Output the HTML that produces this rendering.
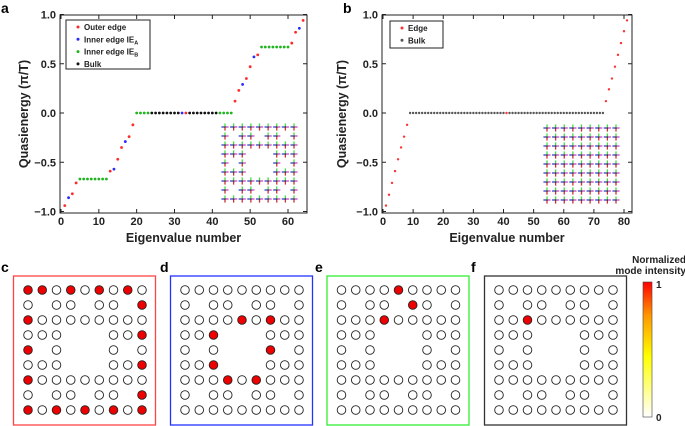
<!DOCTYPE html>
<html><head><meta charset="utf-8"><style>
html,body{margin:0;padding:0;background:#fff;}
svg{display:block;font-family:"Liberation Sans",Arial,sans-serif;}
</style></head><body>
<svg id="fig" width="685" height="426" viewBox="0 0 685 426" xmlns="http://www.w3.org/2000/svg"></svg>
<script>
// Panel a data
const aCats = Array.from({length:64},(_, i)=>i+1);
const aValues = [-0.94,-0.86,-0.82,-0.71,-0.67,-0.67,-0.67,-0.67,-0.67,-0.67,-0.67,-0.67,-0.59,-0.57,-0.47,-0.35,-0.29,-0.24,-0.12,
0,0,0,0,0,0,0,0,0,0,0,0,0,0,0,0,0,0,0,0,0,0,0,0,0,0,
0.12,0.23,0.29,0.35,0.47,0.57,0.59,0.67,0.67,0.67,0.67,0.67,0.67,0.67,0.67,0.71,0.82,0.86,0.94];
const aTypes = "RBRRGGGGGGGGRBRRBRRGGGGKKKKKKKKBRKKKKKKKKGGGGRRBRRBRGGGGGGGGRRBR".split("");
// Panel b data
const bCats = Array.from({length:81},(_, i)=>i+1);
const bValues = [-0.94,-0.83,-0.71,-0.59,-0.47,-0.35,-0.24,-0.12].concat(Array(65).fill(0)).concat([0.12,0.24,0.35,0.47,0.59,0.71,0.83,0.94]);
const bTypes = Array(8).fill("R").concat(Array(65).fill("K")).concat(Array(8).fill("R"));
bTypes[40]="R";
const yTicks = [-1.0,-0.5,0.0,0.5,1.0];
const yTickLabels = ["\u22121.0","\u22120.5","0.0","0.5","1.0"];
const aXTicks = [0,10,20,30,40,50,60];
const bXTicks = [0,10,20,30,40,50,60,70,80];
// mode panels
const carpet = ["111111111","101101101","111111111","111000111","101000101","111000111","111111111","101101101","111111111"];
const modeC = [[0,0],[0,1],[0,3],[0,5],[0,7],[1,8],[2,0],[3,8],[4,0],[5,8],[6,0],[7,8],[8,0],[8,2],[8,4],[8,6],[8,8]];
const modeD = [[2,4],[2,6],[3,2],[4,6],[5,2],[6,3],[6,5]];
const modeE = [[0,4],[1,5],[2,3]];
const modeF = [[2,2]];

const NS="http://www.w3.org/2000/svg";
const svg=document.getElementById('fig');
function mk(tag,attrs,parent,text){const e=document.createElementNS(NS,tag);for(const k in attrs)e.setAttribute(k,attrs[k]);if(text!==undefined)e.textContent=text;(parent||svg).appendChild(e);return e;}
const colMap={R:"#ff2a2a",B:"#2a2aff",G:"#1fb51f",K:"#111"};

function panel(name,x0,x1,xmin,xmax,px0,px1,cats,vals,types,xt,pal,dotr){
  const g=mk('g',{});
  
  
  const top=15,bot=213;
  const xs=v=>px0+(v-xmin)*(px1-px0)/(xmax-xmin);
  const ys=v=>113-v*98.5;
  const fr=mk('rect',{x:x0,y:top,width:x1-x0,height:bot-top,fill:'none',stroke:'#222','stroke-width':1},g);
  
  yTicks.forEach((t,i)=>{const y=ys(t);
    mk('line',{x1:x0,x2:x0+4,y1:y,y2:y,stroke:'#222'},g);mk('line',{x1:x1,x2:x1-4,y1:y,y2:y,stroke:'#222'},g);
    const tl=mk('text',{x:x0-4,y:y+4,'text-anchor':'end','font-size':11,'font-weight':'bold',fill:'#222'},g,yTickLabels[i]);
    
  });
  xt.forEach(t=>{const x=xs(t);
    mk('line',{x1:x,x2:x,y1:bot,y2:bot-4,stroke:'#222'},g);mk('line',{x1:x,x2:x,y1:top,y2:top+4,stroke:'#222'},g);
    const tl=mk('text',{x:x,y:bot+12,'text-anchor':'middle','font-size':11,'font-weight':'bold',fill:'#222'},g,String(t));
    
  });
  const xl=mk('text',{x:(x0+x1)/2,y:242,'text-anchor':'middle','font-size':12.5,'font-weight':'bold',fill:'#222'},g,'Eigenvalue number');
  
  cats.forEach((c,i)=>{const p=mk('circle',{cx:xs(c),cy:ys(vals[i]),r:dotr,fill:pal[types[i]]},g);
    });
  return g;
}
panel('panel-a',60,307,0,60,61,288,aCats,aValues,aTypes,aXTicks,colMap,1.4);
panel('panel-b',382,632,0,80,383,624,bCats,bValues,bTypes,bXTicks,{R:"#ff3333",K:"#555"},1.2);

// y titles
[[28,'a'],[346,'b']].forEach(([x,p])=>{const t=mk('text',{x:x,y:114,transform:`rotate(-90 ${x} 114)`,'text-anchor':'middle','font-size':12.5,'font-weight':'bold',fill:'#222'},svg,'Quasienergy (\u03c0/T)');
  });
// panel letters
[['a',1,13],['b',343,13],['c',1,272],['d',160,272],['e',315,272],['f',471,272]].forEach(([l,x,y])=>{const t=mk('text',{x:x,y:y,'font-size':14,'font-weight':'bold',fill:'#000'},svg,l);
  });

// legends
function legend(x,y,w,h,items,name){const g=mk('g',{});
  mk('rect',{x:x,y:y,width:w,height:h,fill:'#fff',stroke:'#222'},g);
  items.forEach(([c,txt,sub],i)=>{const yy=y+7+i*12.3;mk('circle',{cx:x+12,cy:yy,r:1.5,fill:c},g);
    const t=mk('text',{x:x+18,y:yy+3,'font-size':8,'font-weight':'bold',fill:'#222'},g,txt);
    if(sub){mk('tspan',{'font-size':5.5,dy:2},t,sub);}
    });}
legend(66,20,84,49,[[colMap.R,'Outer edge'],[colMap.B,'Inner edge IE','A'],[colMap.G,'Inner edge IE','B'],[colMap.K,'Bulk']],'legend-a');
legend(390,21,53,27,[["#ff3333",'Edge'],["#555",'Bulk']],'legend-b');

// lattice insets
function inset(x0,y0,full,name){const g=mk('g',{});
  const dx=(294-225)/8,dy=(199-127)/8,a=3.6;
  for(let r=0;r<9;r++)for(let c=0;c<9;c++){if(!full&&carpet[r][c]!=='1')continue;const x=x0+c*dx,y=y0+r*dy;
    mk('line',{x1:x-a,x2:x,y1:y,y2:y,stroke:'#3344cc','stroke-width':1.3},g);
    mk('line',{x1:x,x2:x+a,y1:y,y2:y,stroke:'#cc44cc','stroke-width':1.3},g);
    mk('line',{x1:x,x2:x,y1:y-a,y2:y,stroke:'#44dd44','stroke-width':1.3},g);
    mk('line',{x1:x,x2:x,y1:y,y2:y+a,stroke:'#cc3333','stroke-width':1.3},g);
    mk('circle',{cx:x,cy:y,r:0.8,fill:'#333'},g);}}
inset(225,127,false,'lattice-inset-a');
inset(547,128,true,'lattice-inset-b');

// mode panels
function mode(bx,color,reds,name){const g=mk('g',{});
  mk('rect',{x:bx,y:276,width:142,height:149,fill:'none',stroke:color,'stroke-width':1.3},g);
  const set=new Set(reds.map(p=>p[0]+','+p[1]));
  for(let r=0;r<9;r++)for(let c=0;c<9;c++){if(carpet[r][c]!=='1')continue;
    const on=set.has(r+','+c);const ci=mk('circle',{cx:bx+14.5+c*14.25,cy:290+r*15,r:4.3,fill:on?'#ee0000':'#fff',stroke:'#222','stroke-width':0.9},g);
    }}
mode(13.5,'#ff4444',modeC,'mode-panel-c');
mode(170.5,'#2233ff',modeD,'mode-panel-d');
mode(327,'#33ee33',modeE,'mode-panel-e');
mode(484.5,'#333',modeF,'mode-panel-f');

// colorbar
const defs=mk('defs',{});const lg=mk('linearGradient',{id:'cb',x1:0,y1:1,x2:0,y2:0},defs);
[['0','#ffffff'],['0.45','#ffff00'],['0.75','#ff9900'],['1','#ff0000']].forEach(([o,c])=>mk('stop',{offset:o,'stop-color':c},lg));
const cb=mk('rect',{x:643,y:282,width:9,height:135,fill:'url(#cb)',stroke:'#444','stroke-width':0.6});

[['1',288],['0',421]].forEach(([t,y])=>{const e=mk('text',{x:656,y:y,'font-size':10,'font-weight':'bold',fill:'#222'},svg,t);});
[['Normalized',263],['mode intensity',274]].forEach(([t,y])=>{const e=mk('text',{x:686,y:y,'text-anchor':'end','font-size':10,'font-weight':'bold',fill:'#222'},svg,t);});
</script>
</body></html>
